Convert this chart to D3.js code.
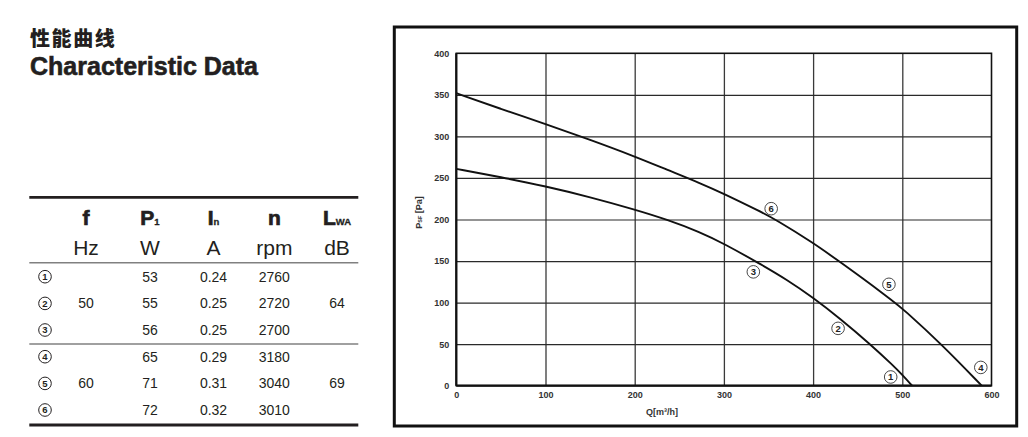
<!DOCTYPE html>
<html>
<head>
<meta charset="utf-8">
<script src="https://cdn.jsdelivr.net/npm/d3@7"></script>
<style>
  html, body { margin: 0; padding: 0; background: #fff; }
  svg { display: block; }
</style>
</head>
<body>
<svg id="c" width="1028" height="437"></svg>
<script>
// ---------- DATA ----------
const rowLabels = ["1", "2", "3", "4", "5", "6"];
const freqValues = ["50", "60"];
const powerValues = ["53", "55", "56", "65", "71", "72"];
const currentValues = ["0.24", "0.25", "0.25", "0.29", "0.31", "0.32"];
const speedValues = ["2760", "2720", "2700", "3180", "3040", "3010"];
const noiseValues = ["64", "69"];

const xTicks = [0, 100, 200, 300, 400, 500, 600];
const yTicks = [0, 50, 100, 150, 200, 250, 300, 350, 400];

// 50 Hz curve (1,2,3)
const curve50Q = [0, 50, 100, 150, 200, 236, 273, 300, 340, 370, 400, 430, 464, 490, 500, 511];
const curve50P = [261, 251, 240, 227, 212, 200, 185, 171, 147, 128, 106, 81, 50, 24, 13, 0];
// 60 Hz curve (4,5,6)
const curve60Q = [0, 50, 100, 150, 200, 236, 273, 300, 340, 358, 400, 430, 452, 492, 500, 544, 589];
const curve60P = [352, 333, 315, 296, 276, 260, 244, 231, 210, 200, 172, 149, 132, 100, 93, 50, 0];

// curve labels
const curveLabelText = ["1", "2", "3", "4", "5", "6"];
const curveLabelQ = [487, 428, 333, 588, 485, 353];
const curveLabelP = [10.5, 69, 137, 22, 122, 213];

// ---------- DRAW ----------
const svg = d3.select("#c");
const ink = "#231f20";

// Titles
svg.append("text").attr("x", 30).attr("y", 45.5)
  .attr("font-family", "'Noto Sans CJK SC', sans-serif").attr("font-weight", 900)
  .attr("font-size", 20).attr("letter-spacing", 1.6).attr("fill", ink).text("性能曲线");
svg.append("text").attr("x", 30).attr("y", 75)
  .attr("font-family", "'Liberation Sans', Arial, sans-serif").attr("font-weight", 700)
  .attr("font-size", 25).attr("fill", ink).attr("stroke", ink).attr("stroke-width", 0.6)
  .attr("textLength", 228).attr("lengthAdjust", "spacingAndGlyphs")
  .text("Characteristic Data");

// ---------- TABLE ----------
const tX0 = 29.3, tX1 = 358.3;
const colX = { lab: 45, f: 86, p: 150, i: 213.5, n: 274.3, l: 337 };
const tbl = svg.append("g").attr("font-family", "'Liberation Sans', Arial, sans-serif").attr("fill", ink);

tbl.append("line").attr("x1", tX0).attr("x2", tX1).attr("y1", 197.3).attr("y2", 197.3)
  .attr("stroke", ink).attr("stroke-width", 2.8);
tbl.append("line").attr("x1", tX0).attr("x2", tX1).attr("y1", 425).attr("y2", 425)
  .attr("stroke", ink).attr("stroke-width", 2.8);
[262.7, 344].forEach(y => tbl.append("line").attr("x1", tX0).attr("x2", tX1).attr("y1", y).attr("y2", y)
  .attr("stroke", "#808080").attr("stroke-width", 1.4));

// header symbols
function sym(x, main, sub) {
  const t = tbl.append("text").attr("x", x).attr("y", 225).attr("text-anchor", "middle")
    .attr("font-weight", 700).attr("font-size", 21).attr("stroke", ink).attr("stroke-width", 0.7);
  t.append("tspan").text(main);
  if (sub) t.append("tspan").attr("font-size", 9.5).attr("stroke-width", 0.3).text(sub);
}
sym(colX.f, "f");
sym(colX.p, "P", "1");
sym(colX.i, "I", "n");
sym(colX.n, "n");
sym(colX.l, "L", "WA");

// units
[["Hz", colX.f], ["W", colX.p], ["A", colX.i], ["rpm", colX.n], ["dB", colX.l]].forEach(([u, x]) => {
  tbl.append("text").attr("x", x).attr("y", 255).attr("text-anchor", "middle")
    .attr("font-size", 21).text(u);
});

const rowBase = [281.7, 308.4, 335, 361.7, 388.4, 415];
rowLabels.forEach((lab, k) => {
  const yb = rowBase[k];
  tbl.append("circle").attr("cx", colX.lab).attr("cy", yb - 5).attr("r", 6.3)
    .attr("fill", "none").attr("stroke", ink).attr("stroke-width", 1);
  tbl.append("text").attr("x", colX.lab).attr("y", yb - 1.6).attr("text-anchor", "middle")
    .attr("font-size", 9.5).attr("font-weight", 700).text(lab);
  tbl.append("text").attr("x", colX.p).attr("y", yb).attr("text-anchor", "middle").attr("font-size", 14).text(powerValues[k]);
  tbl.append("text").attr("x", colX.i).attr("y", yb).attr("text-anchor", "middle").attr("font-size", 14).text(currentValues[k]);
  tbl.append("text").attr("x", colX.n).attr("y", yb).attr("text-anchor", "middle").attr("font-size", 14).text(speedValues[k]);
});
freqValues.forEach((f, k) => {
  tbl.append("text").attr("x", colX.f).attr("y", rowBase[1 + 3 * k]).attr("text-anchor", "middle").attr("font-size", 14).text(f);
  tbl.append("text").attr("x", colX.l).attr("y", rowBase[1 + 3 * k]).attr("text-anchor", "middle").attr("font-size", 14).text(noiseValues[k]);
});

// ---------- CHART ----------
svg.append("rect").attr("x", 394.3).attr("y", 27).attr("width", 622.4).attr("height", 399)
  .attr("fill", "none").attr("stroke", "#111").attr("stroke-width", 3);

const x = d3.scaleLinear().domain([0, 600]).range([456.3, 991.5]);
const y = d3.scaleLinear().domain([0, 400]).range([385.7, 53.3]);

const g = svg.append("g");
// grid
g.append("g").attr("transform", `translate(0,${y(0)})`)
  .call(d3.axisBottom(x).tickValues(xTicks.slice(1, -1)).tickSize(-(y(0) - y(400))).tickFormat(""))
  .call(s => s.select(".domain").remove())
  .call(s => s.selectAll("line").attr("stroke", "#3a3a3a").attr("stroke-width", 1.3));
g.append("g").attr("transform", `translate(${x(0)},0)`)
  .call(d3.axisLeft(y).tickValues(yTicks.slice(1, -1)).tickSize(-(x(600) - x(0))).tickFormat(""))
  .call(s => s.select(".domain").remove())
  .call(s => s.selectAll("line").attr("stroke", "#2a2a2a").attr("stroke-width", 1.2));

// frame
g.append("rect").attr("x", x(0)).attr("y", y(400)).attr("width", x(600) - x(0)).attr("height", y(0) - y(400))
  .attr("fill", "none").attr("stroke", "#111").attr("stroke-width", 1.6);
g.append("line").attr("x1", x(0)).attr("x2", x(0)).attr("y1", y(400)).attr("y2", y(0)).attr("stroke", "#111").attr("stroke-width", 2.2);
g.append("line").attr("x1", x(0)).attr("x2", x(600)).attr("y1", y(0)).attr("y2", y(0)).attr("stroke", "#111").attr("stroke-width", 2.2);

// tick labels
const tickFont = "'Liberation Sans', Arial, sans-serif";
g.append("g").attr("transform", `translate(${x(0)},0)`)
  .call(d3.axisLeft(y).tickValues(yTicks).tickSize(0).tickPadding(7).tickFormat(d3.format("d")))
  .call(s => s.select(".domain").remove())
  .call(s => s.selectAll("text").attr("font-family", tickFont).attr("font-size", 9)
    .attr("font-weight", 700).attr("fill", "#333"));
g.append("g").attr("transform", `translate(0,${y(0)})`)
  .call(d3.axisBottom(x).tickValues(xTicks).tickSize(0).tickPadding(6).tickFormat(d3.format("d")))
  .call(s => s.select(".domain").remove())
  .call(s => s.selectAll("text").attr("font-family", tickFont).attr("font-size", 9)
    .attr("font-weight", 700).attr("fill", "#333"));

// axis titles
g.append("text").attr("x", 662).attr("y", 415).attr("text-anchor", "middle")
  .attr("font-family", tickFont).attr("font-size", 9).attr("font-weight", 700).attr("fill", "#333")
  .text("Q[m³/h]");
const yt = g.append("text").attr("transform", "translate(421.5,212.5) rotate(-90)").attr("text-anchor", "middle")
  .attr("font-family", tickFont).attr("font-size", 9).attr("font-weight", 700).attr("fill", "#333");
yt.append("tspan").text("P");
yt.append("tspan").attr("font-size", 5.5).text("SF");
yt.append("tspan").text(" [Pa]");

// curves
const line = d3.line().x(d => x(d[0])).y(d => y(d[1])).curve(d3.curveBasis);
[[curve50Q, curve50P], [curve60Q, curve60P]].forEach(([q, p]) => {
  g.append("path").attr("d", line(q.map((v, i) => [v, p[i]])))
    .attr("fill", "none").attr("stroke", "#111").attr("stroke-width", 1.9);
});

// curve labels
curveLabelText.forEach((t, i) => {
  const cx = x(curveLabelQ[i]), cy = y(curveLabelP[i]);
  g.append("circle").attr("cx", cx).attr("cy", cy).attr("r", 6.3)
    .attr("fill", "#fff").attr("stroke", "#333").attr("stroke-width", 0.9);
  g.append("text").attr("x", cx).attr("y", cy + 3.3).attr("text-anchor", "middle")
    .attr("font-family", tickFont).attr("font-size", 9.5).attr("font-weight", 700).attr("fill", "#222").text(t);
});
</script>
</body>
</html>
